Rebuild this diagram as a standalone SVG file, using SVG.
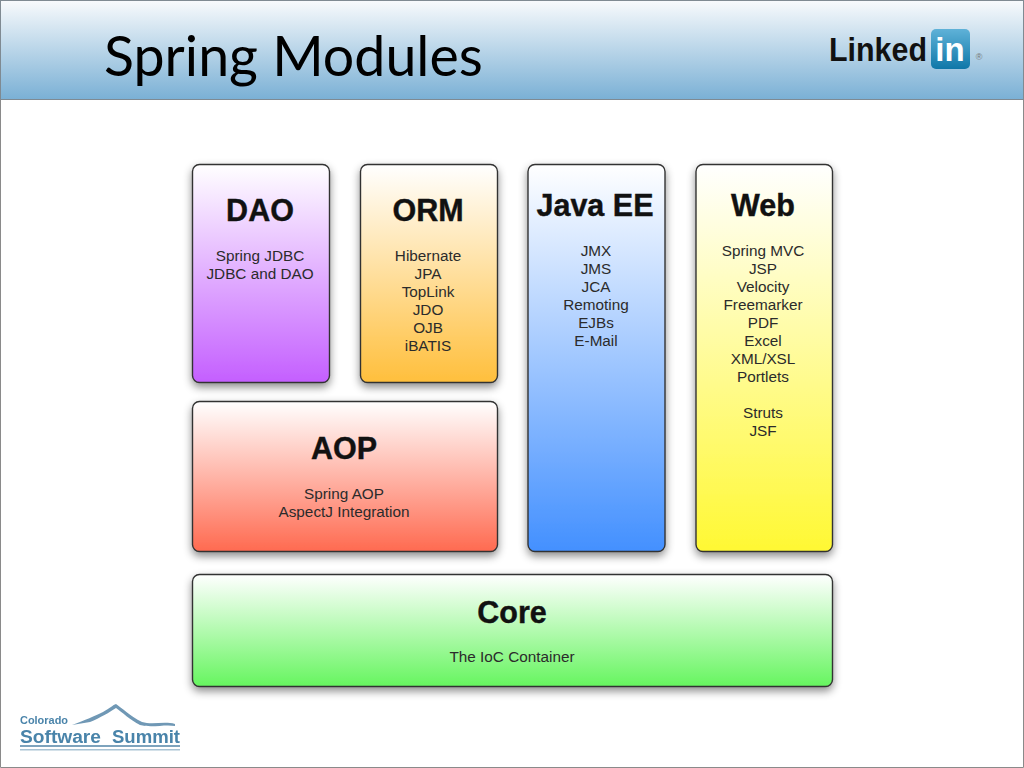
<svg xmlns="http://www.w3.org/2000/svg" width="1024" height="768" viewBox="0 0 1024 768">
<style>
.b{stroke:#333;stroke-width:1.4;filter:url(#sh)}
.h{font:bold 30.500px "Liberation Sans",Arial,sans-serif;text-anchor:middle;fill:#111;stroke:#111;stroke-width:0.4}
.t{font:15.300px "Liberation Sans",Arial,sans-serif;text-anchor:middle;fill:#2b2b2b}
.l{fill:#4a84aa;font-family:"Liberation Sans",Arial,sans-serif;font-weight:bold}
</style>
<defs>
<filter id="sh" x="-15%" y="-15%" width="130%" height="130%"><feDropShadow dx="0" dy="4" stdDeviation="4" flood-color="#000" flood-opacity="0.45"/></filter>
<filter id="soft" x="-5%" y="-5%" width="110%" height="110%"><feGaussianBlur stdDeviation="0.6"/></filter>
<linearGradient id="hdr" x1="0" y1="0" x2="0" y2="1"><stop offset="0" stop-color="#f8fafc"/><stop offset="1" stop-color="#7ab0d5"/></linearGradient>
<linearGradient id="inb" x1="0" y1="0" x2="0" y2="1"><stop offset="0" stop-color="#5fb2d8"/><stop offset="1" stop-color="#0f77a8"/></linearGradient>
<linearGradient id="dao" x1="0" y1="0" x2="0" y2="1"><stop offset="0" stop-color="#fff"/><stop offset="1" stop-color="#c45fff"/></linearGradient>
<linearGradient id="orm" x1="0" y1="0" x2="0" y2="1"><stop offset="0" stop-color="#fff"/><stop offset="1" stop-color="#ffbf3c"/></linearGradient>
<linearGradient id="jee" x1="0" y1="0" x2="0" y2="1"><stop offset="0" stop-color="#fff"/><stop offset="1" stop-color="#4390ff"/></linearGradient>
<linearGradient id="web" x1="0" y1="0" x2="0" y2="1"><stop offset="0" stop-color="#fff"/><stop offset="1" stop-color="#fff833"/></linearGradient>
<linearGradient id="aop" x1="0" y1="0" x2="0" y2="1"><stop offset="0" stop-color="#fff"/><stop offset="1" stop-color="#ff6a50"/></linearGradient>
<linearGradient id="core" x1="0" y1="0" x2="0" y2="1"><stop offset="0" stop-color="#fff"/><stop offset="1" stop-color="#66f55f"/></linearGradient>
</defs>
<rect width="1024" height="768" fill="#fff"/>
<g id="frame">
<rect x="0.5" y="0.5" width="1023" height="99" fill="url(#hdr)" stroke="#7f8a92"/>
<path d="M0.5 100V767.5H1023.5V100" fill="none" stroke="#8a8a8a"/>
</g>
<text x="104" y="76" font-family="Lato,'Open Sans',sans-serif" font-size="55.500" fill="#000">Spring Modules</text>
<g id="linkedin-logo">
<text x="829" y="61" font-family="'Liberation Sans',Arial,sans-serif" font-weight="bold" font-size="33" fill="#111" textLength="98" lengthAdjust="spacingAndGlyphs">Linked</text>
<rect x="931" y="29" width="39" height="40" rx="5" fill="url(#inb)"/>
<text x="950" y="61" font-family="'Liberation Sans',Arial,sans-serif" font-weight="bold" font-size="33" fill="#fff" text-anchor="middle">in</text>
<text x="979" y="60" font-family="'Liberation Sans',Arial,sans-serif" font-size="9" fill="#777" text-anchor="middle">®</text>
</g>
<g id="dao-node">
<rect class="b" x="192.500" y="164.500" width="137" height="218" rx="7" fill="url(#dao)"/>
<text class="h" x="260" y="221">DAO</text>
<text class="t" x="260" y="261">Spring JDBC</text>
<text class="t" x="260" y="279">JDBC and DAO</text>
</g>
<g id="orm-node">
<rect class="b" x="360.500" y="164.500" width="137" height="218" rx="7" fill="url(#orm)"/>
<text class="h" x="428" y="221">ORM</text>
<text class="t" x="428" y="261">Hibernate</text>
<text class="t" x="428" y="279">JPA</text>
<text class="t" x="428" y="297">TopLink</text>
<text class="t" x="428" y="315">JDO</text>
<text class="t" x="428" y="333">OJB</text>
<text class="t" x="428" y="351">iBATIS</text>
</g>
<g id="javaee-node">
<rect class="b" x="528" y="164.500" width="137" height="387" rx="7" fill="url(#jee)"/>
<text class="h" x="595" y="216">Java EE</text>
<text class="t" x="596" y="256">JMX</text>
<text class="t" x="596" y="274">JMS</text>
<text class="t" x="596" y="292">JCA</text>
<text class="t" x="596" y="310">Remoting</text>
<text class="t" x="596" y="328">EJBs</text>
<text class="t" x="596" y="346">E-Mail</text>
</g>
<g id="web-node">
<rect class="b" x="696" y="164.500" width="136.500" height="387" rx="7" fill="url(#web)"/>
<text class="h" x="763" y="216">Web</text>
<text class="t" x="763" y="256">Spring MVC</text>
<text class="t" x="763" y="274">JSP</text>
<text class="t" x="763" y="292">Velocity</text>
<text class="t" x="763" y="310">Freemarker</text>
<text class="t" x="763" y="328">PDF</text>
<text class="t" x="763" y="346">Excel</text>
<text class="t" x="763" y="364">XML/XSL</text>
<text class="t" x="763" y="382">Portlets</text>
<text class="t" x="763" y="418">Struts</text>
<text class="t" x="763" y="436">JSF</text>
</g>
<g id="aop-node">
<rect class="b" x="192.500" y="401.500" width="305" height="150" rx="7" fill="url(#aop)"/>
<text class="h" x="344" y="459">AOP</text>
<text class="t" x="344" y="499">Spring AOP</text>
<text class="t" x="344" y="517">AspectJ Integration</text>
</g>
<g id="core-node">
<rect class="b" x="192.500" y="574.500" width="640" height="112" rx="7" fill="url(#core)"/>
<text class="h" x="512" y="623">Core</text>
<text class="t" x="512" y="662">The IoC Container</text>
</g>
<g id="connectors"/>
<g id="summit-logo" filter="url(#soft)">
<path d="M72 725C85 720 95 716 103 712C110 708 113 705 116 704C122 708 130 716 142 722C152 725 165 721 175 724L175 726C165 724 152 728 140 725C130 720 122 712 116 708C110 712 100 718 90 722Z" fill="#6f98b5"/>
<text class="l" x="20" y="724" font-size="11" textLength="48" lengthAdjust="spacingAndGlyphs">Colorado</text>
<text class="l" x="20" y="743" font-size="18" textLength="81" lengthAdjust="spacingAndGlyphs">Software</text>
<text class="l" x="112" y="743" font-size="18" textLength="68" lengthAdjust="spacingAndGlyphs">Summit</text>
<rect x="20" y="745" width="160" height="2" fill="#7da3bd"/>
<rect x="20" y="749" width="160" height="1.500" fill="#a9c3d4"/>
</g>
</svg>
